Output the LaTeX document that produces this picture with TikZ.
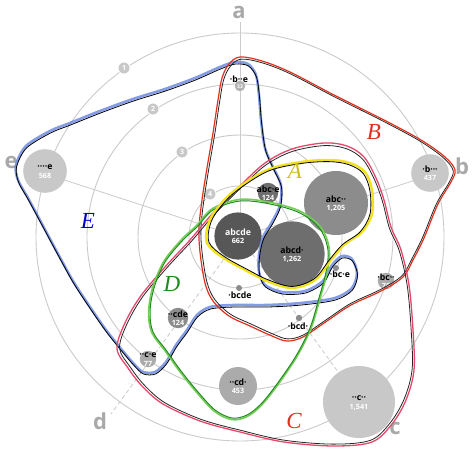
\documentclass[tikz,border=0pt]{standalone}
\usepackage{fontspec}
\setmainfont{Open Sans}
\newfontfamily\handfont{Liberation Serif}
\begin{document}
\definecolor{ringgray}{HTML}{CBCBCB}
\definecolor{axgray}{HTML}{A9A9A9}
\definecolor{dega}{HTML}{C8C8C8}
\definecolor{degb}{HTML}{ABABAB}
\definecolor{degc}{HTML}{8C8C8C}
\definecolor{degd}{HTML}{6E6E6E}
\definecolor{dege}{HTML}{575757}
\definecolor{setyellow}{HTML}{F2E21E}
\definecolor{setred}{HTML}{E0301E}
\definecolor{setpink}{HTML}{E8466A}
\definecolor{setgreen}{HTML}{1E8C1E}
\definecolor{setlgreen}{HTML}{74CC55}
\definecolor{setblue}{HTML}{5A7BDD}
\newcommand\ShapeA[1]{\draw[#1] plot[smooth cycle,tension=0.55] coordinates {(207,243) (208,225) (216,210) (234,191) (267,170) (301,162) (330,160) (350,163) (365,172) (372,190) (372,214) (362,232) (344,245) (331,260) (315,280) (292,288) (267,281) (247,271) (222,257)};}
\newcommand\ShapeB[1]{\draw[#1] plot[smooth cycle,tension=0.55] coordinates {(200,252) (199,228) (202,200) (207,168) (213,133) (218,100) (222,78) (229,64) (240,57) (262,61) (290,72) (334,95) (384,120) (421,140) (445,157) (455,170) (451,182) (438,204) (424,238) (413,260) (403,277) (381,291) (351,305) (327,321) (303,337) (287,341) (272,336) (250,326) (229,316) (213,301) (205,283)};}
\newcommand\ShapeC[1]{\draw[#1] plot[smooth cycle,tension=0.55] coordinates {(117,349) (124,325) (140,297) (165,267) (190,240) (213,213) (240,186) (265,163) (292,149) (324,143) (347,146) (364,157) (376,178) (384,200) (391,227) (401,250) (409,285) (413,330) (414,370) (406,400) (392,424) (372,442) (334,446) (284,442) (240,432) (200,421) (163,404) (142,386) (128,368)};}
\newcommand\ShapeD[1]{\draw[#1] plot[smooth cycle,tension=0.55] coordinates {(153,332) (150,312) (154,288) (165,262) (183,240) (197,227) (213,210) (240,201) (270,204) (300,213) (320,229) (328,250) (326,272) (319,298) (310,328) (296,356) (277,384) (261,404) (247,415) (232,418) (215,410) (198,392) (181,371) (166,350)};}
\newcommand\ShapeE[1]{\draw[#1] plot[smooth cycle,tension=0.5] coordinates {(16,165) (26,146) (50,131) (70,123) (100,111) (133,99) (165,89) (195,78) (220,67) (235,62) (248,64) (256,75) (259,95) (261,120) (265,148) (273,167) (281,185) (280,205) (272,222) (263,237) (259,255) (259,272) (265,285) (282,292) (305,291) (323,281) (332,265) (342,256) (352,259) (357,273) (352,288) (335,298) (301,303) (267,305) (234,305) (210,307) (197,315) (187,330) (176,345) (166,362) (155,372) (143,372) (134,364) (122,350) (106,330) (90,307) (73,281) (57,252) (42,224) (28,198) (18,180)};}
\newcommand\Bubble[8]{%
  \node[bub,fill=#5,minimum size=#4*2pt] (#1) at (#2,#3) {};
  \node[lab,text=#8] (#1-l) at (#2,#3-3.4) {#6};
  \node[num] (#1-n) at (#2,#3+5.2) {#7};}
\begin{tikzpicture}[x=1pt,y=-1pt,
  ring/.style={draw=ringgray,line width=0.9pt},
  spoke/.style={draw=ringgray,line width=0.8pt},
  dspoke/.style={draw=ringgray,line width=0.8pt,dash pattern=on 4pt off 3pt},
  badge/.style={circle,fill=dega,draw=white,line width=0.8pt,inner sep=0pt,minimum size=12pt,text=white,font=\fontsize{7}{7}\selectfont\bfseries},
  axlab/.style={text=axgray,font=\fontsize{22}{22}\selectfont\bfseries,inner sep=0pt},
  bub/.style={circle,inner sep=0pt},
  lab/.style={inner sep=0pt,font=\fontsize{8.7}{9}\selectfont\bfseries},
  num/.style={inner sep=0pt,text=white,font=\fontsize{7.2}{7.5}\selectfont\bfseries},
  setlab/.style={inner sep=0pt,font=\handfont\itshape\fontsize{23}{23}\selectfont}]
\useasboundingbox (0,0) rectangle (474,455);
\fill[white] (0,0) rectangle (474,455);
% rings
\coordinate (O) at (240,237);
\foreach \r in {51,102,153,204} \draw[ring] (O) circle[radius=\r pt];
% spokes
\coordinate (pa) at (240,22);
\coordinate (pb) at (444.5,170.6);
\coordinate (pc) at (366.4,410.9);
\coordinate (pd) at (111,414);
\coordinate (pe) at (35.5,170.6);
\draw[spoke] (O) -- (pa);
\draw[spoke] (O) -- (pb);
\draw[dspoke] (O) -- (pc);
\draw[dspoke] (O) -- (pd);
\draw[spoke] (O) -- (pe);
% ring badges
\node[badge] (r1) at (124,68) {1};
\node[badge] (r2) at (153,109) {2};
\node[badge] (r3) at (182,152) {3};
\node[badge] (r4) at (210,194) {4};
% axis labels
\node[axlab] (la) at (239,12) {a};
\node[axlab] (lb) at (462,166) {b};
\node[axlab] (lc) at (395,428) {c};
\node[axlab] (ld) at (100,421) {d};
\node[axlab] (le) at (11,162) {e};
% bubbles
\Bubble{e1}{45}{171}{21.8}{dega}{····e}{568}{black}
\Bubble{b1}{430}{173}{18.8}{dega}{·b···}{437}{black}
\Bubble{c1}{359}{402}{36}{dega}{··c··}{1,541}{black}
\Bubble{cd}{238}{386}{19}{degb}{··cd·}{453}{black}
\Bubble{ce}{148}{359}{8.2}{degb}{··c·e}{77}{black}
\Bubble{bc}{386}{281}{8.2}{degb}{·bc··}{76}{black}
\Bubble{abc}{336}{203}{32}{degc}{abc··}{1,205}{black}
\Bubble{cde}{178}{318}{10.2}{degc}{··cde}{124}{black}
\Bubble{abce}{268}{193}{10.2}{degd}{abc·e}{124}{black}
\Bubble{abcd}{292}{254}{32.6}{degd}{abcd·}{1,262}{black}
\Bubble{abcde}{238}{236}{23.6}{dege}{abcde}{662}{white}
% be bubble
\node[bub,fill=dega!90!black,minimum size=10.6pt] (be) at (240,86) {};
\node[lab] (be-l) at (239,79) {·b··e};
\node[num,font=\fontsize{5}{5}\selectfont\bfseries] (be-n) at (240,86.5) {33};
% dots
\node[bub,fill=degc,minimum size=6pt] (bce) at (336,268) {};
\node[lab] (bce-l) at (340,274) {·bc·e};
\node[bub,fill=degd!80,minimum size=6pt] (bcde) at (239,288) {};
\node[lab] (bcde-l) at (240,295) {·bcde};
\node[bub,fill=degc,minimum size=6.4pt] (bcd) at (299,318) {};
\node[lab] (bcd-l) at (298,326) {·bcd·};
% set outlines
\ShapeE{setblue,line width=2.6pt,opacity=0.75}
\ShapeE{black,line width=0.8pt,shift={(0.5,2)}}
\ShapeB{setred,line width=1.2pt}
\ShapeB{black!85,line width=0.8pt,scale around={0.985:(330,200)}}
\ShapeC{setpink,line width=1.3pt}
\ShapeC{black!85,line width=0.8pt,scale around={0.985:(290,320)}}
\ShapeD{setlgreen,line width=1.6pt,scale around={1.015:(240,310)}}
\ShapeD{setgreen,line width=1pt}
\ShapeA{setyellow,line width=2.4pt}
\ShapeA{black,line width=0.8pt,scale around={0.975:(290,225)}}
% set letters
\node[setlab,text=setyellow!85!black] (sA) at (295,171) {A};
\node[setlab,text=setred] (sB) at (374,132) {B};
\node[setlab,text=setred] (sC) at (294,421) {C};
\node[setlab,text=setgreen] (sD) at (172,284) {D};
\node[setlab,text=blue!75!black] (sE) at (88,221) {E};
\end{tikzpicture}
\end{document}
